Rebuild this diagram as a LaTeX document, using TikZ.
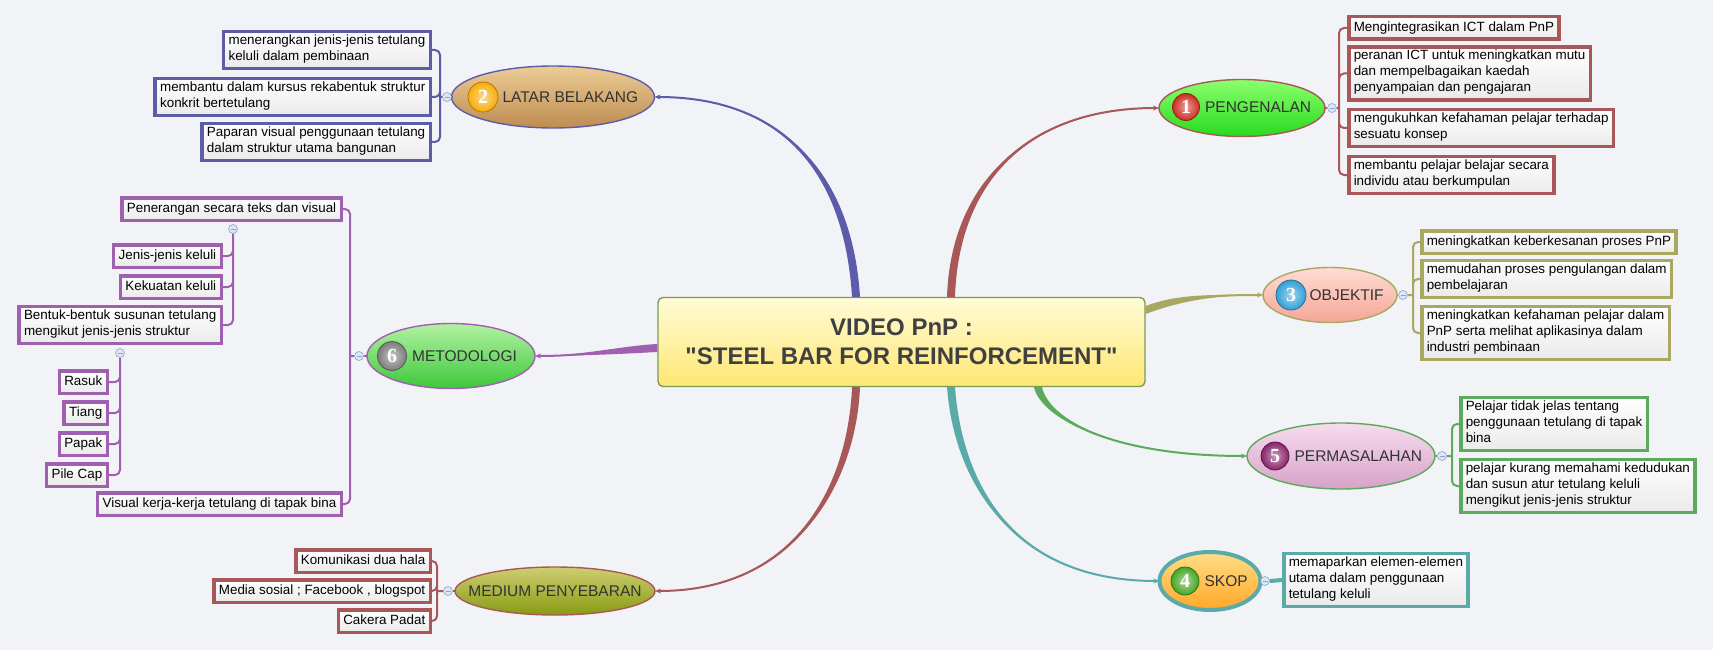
\documentclass[tikz,border=0pt]{standalone}
\usepackage{fontspec}
\setmainfont{Liberation Sans}
\newfontfamily\mmnumfont{Liberation Serif}
\newfontfamily\mmhubfont{Liberation Sans}[Ligatures=TeXOff]
\usepackage{tikz}
\usetikzlibrary{arrows.meta,positioning,shapes.geometric,calc}

\definecolor{mmbg}{RGB}{242,243,247}
\definecolor{mmtext}{RGB}{51,51,51}
\definecolor{mmhubtext}{RGB}{64,64,64}
\definecolor{mmhubline}{RGB}{122,154,90}
\definecolor{mmhubA}{RGB}{255,252,215}
\definecolor{mmhubB}{RGB}{255,230,115}
\definecolor{mmleafbot}{RGB}{234,234,234}
\definecolor{mmblue}{RGB}{92,92,170}
\definecolor{mmred}{RGB}{168,88,88}
\definecolor{mmolive}{RGB}{168,168,96}
\definecolor{mmgreen}{RGB}{92,170,92}
\definecolor{mmteal}{RGB}{90,170,170}
\definecolor{mmpurple}{RGB}{160,96,176}
\definecolor{mmfoldfill}{RGB}{220,230,245}
\definecolor{mmfoldline}{RGB}{140,165,205}
% topic fills
\definecolor{mmlatA}{RGB}{236,204,150}\definecolor{mmlatB}{RGB}{190,140,80}
\definecolor{mmpenA}{RGB}{140,255,110}\definecolor{mmpenB}{RGB}{40,218,30}
\definecolor{mmobjA}{RGB}{255,220,212}\definecolor{mmobjB}{RGB}{244,166,150}
\definecolor{mmperA}{RGB}{246,220,238}\definecolor{mmperB}{RGB}{214,162,200}
\definecolor{mmskoA}{RGB}{255,222,135}\definecolor{mmskoB}{RGB}{255,168,38}
\definecolor{mmmedA}{RGB}{206,206,112}\definecolor{mmmedB}{RGB}{135,155,20}
\definecolor{mmmetA}{RGB}{178,242,162}\definecolor{mmmetB}{RGB}{60,200,60}
% icon discs
\definecolor{mmicred}{RGB}{205,45,35}
\definecolor{mmicorange}{RGB}{248,172,10}
\definecolor{mmicblue}{RGB}{50,160,215}
\definecolor{mmicgreen}{RGB}{70,165,35}
\definecolor{mmicpurple}{RGB}{135,35,105}
\definecolor{mmicgray}{RGB}{125,125,125}

\tikzset{
  mmhub/.style={
    rectangle, rounded corners=5pt, draw=mmhubline, line width=1.4pt,
    top color=mmhubA, bottom color=mmhubB,
    minimum width=487pt, minimum height=89pt, align=center,
    font=\mmhubfont\fontsize{24}{29}\selectfont\bfseries, text=mmhubtext
  },
  mmtopic/.style={ellipse, line width=1.4pt, inner sep=0pt, outer sep=0pt},
  mmtopictext/.style={inner sep=0pt, font=\fontsize{15.5}{18}\selectfont, text=mmtext},
  mmicon/.style={
    circle, inner color=#1!45!white, outer color=#1, draw=#1!70!black, line width=0.8pt,
    minimum size=28pt, inner sep=0pt, text=white,
    font=\mmnumfont\bfseries\fontsize{20}{20}\selectfont
  },
  mmleaf/.style={
    rectangle, draw=#1, line width=3.5pt, top color=white, bottom color=mmleafbot,
    inner xsep=5pt, inner ysep=3.25pt, align=left, text=black,
    font=\fontsize{13.4}{16}\selectfont,
    execute at begin node=\strut, execute at end node=\strut
  },
  mmfold/.style={
    circle, draw=mmfoldline, fill=mmfoldfill, line width=0.6pt,
    minimum size=9pt, inner sep=0pt,
    path picture={\draw[mmfoldline,line width=0.8pt]
      ([xshift=-2.5pt]path picture bounding box.center) -- ([xshift=2.5pt]path picture bounding box.center);}
  },
  mmline/.style={draw=#1, line width=2pt, rounded corners=5pt},
  mmbranch/.style={draw=#1, line width=2pt, -{Stealth[length=6pt,width=5pt]}}
}

\begin{document}
\begin{tikzpicture}[x=1pt,y=-1pt]
\path[use as bounding box, fill=mmbg] (0,0) rectangle (1713,650);

% Centre topic
\node[mmhub] (hub) at (901.5,342) {VIDEO PnP :\\"STEEL BAR FOR REINFORCEMENT"};

% Main topics (ellipse, icon, caption)
\node[mmtopic, draw=mmblue, top color=mmlatA, bottom color=mmlatB, minimum width=203pt, minimum height=62pt] (lat) at (553,97) {};
\node[mmicon=mmicorange, minimum size=30pt] (latic) at (483,97) {2};
\node[mmtopictext, right=4pt of latic] (latt) {LATAR BELAKANG};

\node[mmtopic, draw=mmred, top color=mmpenA, bottom color=mmpenB, minimum width=166pt, minimum height=57pt] (pen) at (1242,108) {};
\node[mmicon=mmicred, minimum size=27pt] (penic) at (1186,107) {1};
\node[mmtopictext, right=5pt of penic] (pent) {PENGENALAN};

\node[mmtopic, draw=mmolive, top color=mmobjA, bottom color=mmobjB, minimum width=134pt, minimum height=55pt] (obj) at (1330,295) {};
\node[mmicon=mmicblue, minimum size=30pt] (objic) at (1291,295) {3};
\node[mmtopictext, right=3pt of objic] (objt) {OBJEKTIF};

\node[mmtopic, draw=mmgreen, top color=mmperA, bottom color=mmperB, minimum width=188pt, minimum height=66pt] (per) at (1341,456) {};
\node[mmicon=mmicpurple] (peric) at (1275,456) {5};
\node[mmtopictext, right=5pt of peric] (pert) {PERMASALAHAN};

\node[mmtopic, draw=mmteal, line width=4pt, top color=mmskoA, bottom color=mmskoB, minimum width=101pt, minimum height=58pt] (sko) at (1210,581) {};
\node[mmicon=mmicgreen] (skoic) at (1185,581) {4};
\node[mmtopictext, right=5pt of skoic] (skot) {SKOP};

\node[mmtopic, draw=mmred, top color=mmmedA, bottom color=mmmedB, minimum width=200pt, minimum height=48pt] (med) at (555,591) {};
\node[mmtopictext] (medt) at (med) {MEDIUM PENYEBARAN};

\node[mmtopic, draw=mmpurple, top color=mmmetA, bottom color=mmmetB, minimum width=168pt, minimum height=65pt] (met) at (451,356) {};
\node[mmicon=mmicgray, minimum size=29pt] (metic) at (392,356) {6};
\node[mmtopictext, right=5pt of metic] (mett) {METODOLOGI};

% Tapered branches from the centre
\fill[mmblue] ([xshift=-49.5pt]hub.north) .. controls (844,170) and (780,97) .. (lat.east)
  .. controls (780,97) and (852,170) .. ([xshift=-41.5pt]hub.north) -- cycle;
\draw[mmbranch=mmblue] ([xshift=-45.5pt]hub.north) .. controls (848,170) and (780,97) .. (lat.east);

\fill[mmred] ([xshift=45.5pt]hub.north) .. controls (951,180) and (1030,108) .. (pen.west)
  .. controls (1030,108) and (959,180) .. ([xshift=53.5pt]hub.north) -- cycle;
\draw[mmbranch=mmred] ([xshift=49.5pt]hub.north) .. controls (955,180) and (1030,108) .. (pen.west);

\fill[mmolive] ([yshift=36pt]hub.east) .. controls (1180,293) and (1215,295) .. (obj.west)
  .. controls (1215,295) and (1180,301) .. ([yshift=28pt]hub.east) -- cycle;
\draw[mmbranch=mmolive] ([yshift=32pt]hub.east) .. controls (1180,297) and (1215,295) .. (obj.west);

\fill[mmgreen] ([xshift=132.5pt]hub.south) .. controls (1041,418) and (1110,456) .. (per.west)
  .. controls (1110,456) and (1049,418) .. ([xshift=140.5pt]hub.south) -- cycle;
\draw[mmbranch=mmgreen] ([xshift=136.5pt]hub.south) .. controls (1045,418) and (1110,456) .. (per.west);

\fill[mmteal] ([xshift=45.5pt]hub.south) .. controls (954,480) and (1010,581) .. (sko.west)
  .. controls (1010,581) and (962,480) .. ([xshift=53.5pt]hub.south) -- cycle;
\draw[mmbranch=mmteal] ([xshift=49.5pt]hub.south) .. controls (958,480) and (1010,581) .. (sko.west);

\fill[mmred] ([xshift=-49.5pt]hub.south) .. controls (848,480) and (800,591) .. (med.east)
  .. controls (800,591) and (856,480) .. ([xshift=-41.5pt]hub.south) -- cycle;
\draw[mmbranch=mmred] ([xshift=-45.5pt]hub.south) .. controls (852,480) and (800,591) .. (med.east);

\fill[mmpurple] ([yshift=-2pt]hub.west) .. controls (620,346) and (580,356) .. (met.east)
  .. controls (580,356) and (620,354) .. ([yshift=-10pt]hub.west) -- cycle;
\draw[mmbranch=mmpurple] ([yshift=-6pt]hub.west) .. controls (620,350) and (580,356) .. (met.east);

% LATAR BELAKANG subtopics
\node[mmfold] (latf) at (447,97) {};
\coordinate (latj) at (440,97);
\node[mmleaf=mmblue, anchor=east] (lat1) at (432,50) {menerangkan jenis-jenis tetulang\\keluli dalam pembinaan};
\node[mmleaf=mmblue, anchor=east] (lat2) at (432,97) {membantu dalam kursus rekabentuk struktur\\konkrit bertetulang};
\node[mmleaf=mmblue, anchor=east] (lat3) at (432,142) {Paparan visual penggunaan tetulang\\dalam struktur utama bangunan};
\draw[mmline=mmblue] (lat.west) -- (latf.east);
\draw[mmline=mmblue] (latf.west) -- (latj) (latj) |- (lat1.east) (latj) |- (lat2.east) (latj) |- (lat3.east);

% PENGENALAN subtopics
\node[mmfold] (penf) at (1332,108) {};
\coordinate (penj) at (1339,108);
\node[mmleaf=mmred, anchor=west] (pen1) at (1347,28) {Mengintegrasikan ICT dalam PnP};
\node[mmleaf=mmred, anchor=west] (pen2) at (1347,73.5) {peranan ICT untuk meningkatkan mutu\\dan mempelbagaikan kaedah\\penyampaian dan pengajaran};
\node[mmleaf=mmred, anchor=west] (pen3) at (1347,128) {mengukuhkan kefahaman pelajar terhadap\\sesuatu konsep};
\node[mmleaf=mmred, anchor=west] (pen4) at (1347,175) {membantu pelajar belajar secara\\individu atau berkumpulan};
\draw[mmline=mmred] (pen.east) -- (penf.west);
\draw[mmline=mmred] (penf.east) -- (penj) (penj) |- (pen1.west) (penj) |- (pen2.west) (penj) |- (pen3.west) (penj) |- (pen4.west);

% OBJEKTIF subtopics
\node[mmfold] (objf) at (1403,295) {};
\coordinate (objj) at (1413,295);
\node[mmleaf=mmolive, anchor=west] (obj1) at (1420,242) {meningkatkan keberkesanan proses PnP};
\node[mmleaf=mmolive, anchor=west] (obj2) at (1420,279) {memudahan proses pengulangan dalam\\pembelajaran};
\node[mmleaf=mmolive, anchor=west] (obj3) at (1420,333) {meningkatkan kefahaman pelajar dalam\\PnP serta melihat aplikasinya dalam\\industri pembinaan};
\draw[mmline=mmolive] (obj.east) -- (objf.west);
\draw[mmline=mmolive] (objf.east) -- (objj) (objj) |- (obj1.west) (objj) |- (obj2.west) (objj) |- (obj3.west);

% PERMASALAHAN subtopics
\node[mmfold] (perf) at (1442,456) {};
\coordinate (perj) at (1452,456);
\node[mmleaf=mmgreen, anchor=west] (per1) at (1459,424) {Pelajar tidak jelas tentang\\penggunaan tetulang di tapak\\bina};
\node[mmleaf=mmgreen, anchor=west] (per2) at (1459,486) {pelajar kurang memahami kedudukan\\dan susun atur tetulang keluli\\mengikut jenis-jenis struktur};
\draw[mmline=mmgreen] (per.east) -- (perf.west);
\draw[mmline=mmgreen] (perf.east) -- (perj) (perj) |- (per1.west) (perj) |- (per2.west);

% SKOP subtopic
\node[mmfold] (skof) at (1265,581) {};
\node[mmleaf=mmteal, anchor=west] (sko1) at (1282,580) {memaparkan elemen-elemen\\utama dalam penggunaan\\tetulang keluli};
\draw[mmline=mmteal, line width=4pt] (sko.east) -- (skof.west) (skof.east) -- (sko1.west);

% MEDIUM PENYEBARAN subtopics
\node[mmfold] (medf) at (448,591) {};
\coordinate (medj) at (437,591);
\node[mmleaf=mmred, anchor=east] (med1) at (432,561) {Komunikasi dua hala};
\node[mmleaf=mmred, anchor=east] (med2) at (432,591) {Media sosial ; Facebook , blogspot};
\node[mmleaf=mmred, anchor=east] (med3) at (432,621) {Cakera Padat};
\draw[mmline=mmred] (med.west) -- (medf.east);
\draw[mmline=mmred] (medf.west) -- (medj) (medj) |- (med1.east) (medj) |- (med2.east) (medj) |- (med3.east);

% METODOLOGI subtopics, two levels deep
\node[mmfold] (metf) at (359,356) {};
\coordinate (metj) at (350,356);
\node[mmleaf=mmpurple, anchor=east] (met1) at (343,209) {Penerangan secara teks dan visual};
\node[mmleaf=mmpurple, anchor=east] (met2) at (343,504) {Visual kerja-kerja tetulang di tapak bina};
\node[mmfold] (met1f) at (233,229) {};
\node[mmleaf=mmpurple, anchor=east] (jen) at (223,256) {Jenis-jenis keluli};
\node[mmleaf=mmpurple, anchor=east] (kek) at (223,287) {Kekuatan keluli};
\node[mmleaf=mmpurple, anchor=east] (ben) at (223,325) {Bentuk-bentuk susunan tetulang\\mengikut jenis-jenis struktur};
\node[mmfold] (benf) at (120,353) {};
\node[mmleaf=mmpurple, anchor=east] (ras) at (109,382) {Rasuk};
\node[mmleaf=mmpurple, anchor=east] (tia) at (109,413) {Tiang};
\node[mmleaf=mmpurple, anchor=east] (pap) at (109,444) {Papak};
\node[mmleaf=mmpurple, anchor=east] (pil) at (109,475) {Pile Cap};
\draw[mmline=mmpurple] (met.west) -- (metf.east);
\draw[mmline=mmpurple] (metf.west) -- (metj) (metj) |- (met1.east) (metj) |- (met2.east);
\draw[mmline=mmpurple] (met1f.south) |- (jen.east) (met1f.south) |- (kek.east) (met1f.south) |- (ben.east);
\draw[mmline=mmpurple] (benf.south) |- (ras.east) (benf.south) |- (tia.east) (benf.south) |- (pap.east) (benf.south) |- (pil.east);
\end{tikzpicture}
\end{document}
